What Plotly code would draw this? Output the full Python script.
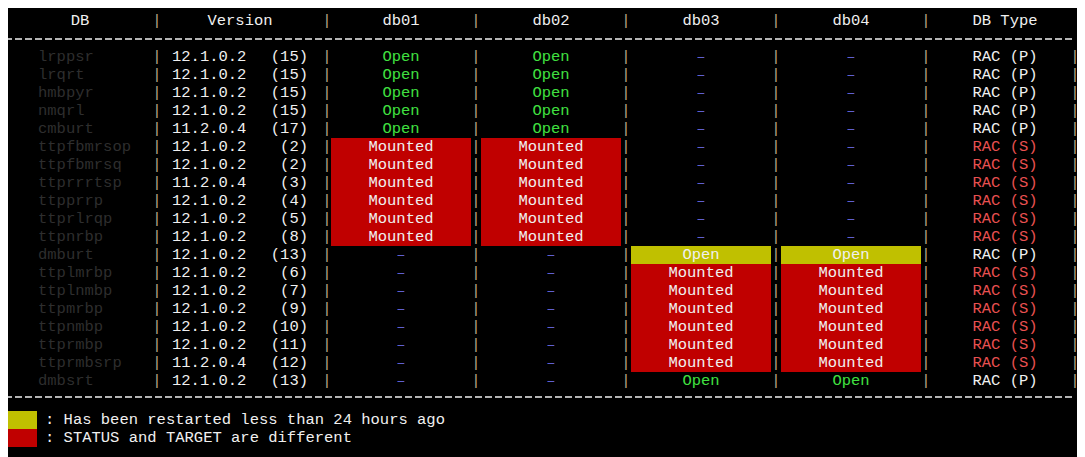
import plotly.graph_objects as go

headers = ["DB", "Version", "db01", "db02", "db03", "db04", "DB Type"]
db_names = ["lrppsr", "lrqrt", "hmbpyr", "nmqrl", "cmburt", "ttpfbmrsop", "ttpfbmrsq", "ttprrrtsp", "ttpprrp", "ttprlrqp",
            "ttpnrbp", "dmburt", "ttplmrbp", "ttplnmbp", "ttpmrbp", "ttpnmbp", "ttprmbp", "ttprmbsrp", "dmbsrt"]
versions = ["12.1.0.2"] * 4 + ["11.2.0.4", "12.1.0.2", "12.1.0.2", "11.2.0.4"] + ["12.1.0.2"] * 9 + ["11.2.0.4", "12.1.0.2"]
counts = [15, 15, 15, 15, 17, 2, 2, 3, 4, 5, 8, 13, 6, 7, 9, 10, 11, 12, 13]
db01 = ["Open"] * 5 + ["Mounted"] * 6 + ["–"] * 8
db02 = list(db01)
db03 = ["–"] * 11 + ["Open"] + ["Mounted"] * 6 + ["Open"]
db04 = list(db03)
flags12 = [""] * 5 + ["R"] * 6 + [""] * 8
flags34 = [""] * 11 + ["Y"] + ["R"] * 6 + [""]
db_types = ["RAC (P)"] * 5 + ["RAC (S)"] * 6 + ["RAC (P)"] + ["RAC (S)"] * 6 + ["RAC (P)"]
legend_labels = [": Has been restarted less than 24 hours ago", ": STATUS and TARGET are different"]

FONT = "Liberation Mono"
FS = 15.5
WHITE = "#f0f0f0"
GREEN = "#40e040"
BLUE = "#6060d0"
PIPE = "#b8a488"
REDTXT = "#e85050"
REDBOX = "#c00000"
YELBOX = "#c0c000"

col_centers = [80, 240, 401, 551, 701, 851, 1005]
pipes_x = [157, 327, 476, 626, 776, 926, 1075]
box_spans = [(331, 471), (481, 621), (631, 771), (781, 921)]
y_head = 21
y0 = 57
dy = 18
n = len(db_names)
ys = [y0 + i * dy for i in range(n)]

fig = go.Figure()
shapes = []

def txt(x, y, t, color, anchor="center"):
    fig.add_trace(go.Scatter(x=x, y=y, text=t, mode="text", textposition="middle " + anchor if anchor != "center" else "middle center",
                             textfont=dict(family=FONT, size=FS, color=color), hoverinfo="skip", showlegend=False))

txt(col_centers, [y_head] * 7, headers, WHITE)
txt(pipes_x[:-1], [y_head] * 6, ["|"] * 6, PIPE)
for yl in [39, 397]:
    shapes.append(dict(type="line", x0=5, x1=1075, y0=yl, y1=yl, line=dict(color=WHITE, width=1.5, dash="7px,3px")))

status_cols = [(db01, flags12), (db02, flags12), (db03, flags34), (db04, flags34)]
for ci, (vals, flags) in enumerate(status_cols):
    xa, xb = box_spans[ci]
    for i in range(n):
        if flags[i]:
            shapes.append(dict(type="rect", x0=xa, x1=xb, y0=ys[i] - dy / 2, y1=ys[i] + dy / 2,
                               fillcolor=REDBOX if flags[i] == "R" else YELBOX, line=dict(width=0), layer="below"))
    colors = []
    for i in range(n):
        if flags[i]:
            colors.append(WHITE)
        elif vals[i] == "Open":
            colors.append(GREEN)
        else:
            colors.append(BLUE)
    txt([col_centers[2 + ci]] * n, ys, vals, colors)

txt([38] * n, ys, db_names, "#2e2e2e", "right")
txt([172] * n, ys, versions, WHITE, "right")
txt([308] * n, ys, ["(%d)" % c for c in counts], WHITE, "left")
txt([col_centers[6]] * n, ys, db_types, [WHITE if t.endswith("(P)") else REDTXT for t in db_types])
for px in pipes_x:
    txt([px] * n, ys, ["|"] * n, PIPE)

leg_y = [420, 438]
for yv, c in zip(leg_y, [YELBOX, REDBOX]):
    shapes.append(dict(type="rect", x0=7, x1=37, y0=yv - 9, y1=yv + 9, fillcolor=c, line=dict(width=0)))
txt([45, 45], leg_y, legend_labels, WHITE, "right")

fig.update_layout(width=1085, height=457, margin=dict(l=0, r=0, t=0, b=0),
                  paper_bgcolor="black", plot_bgcolor="black", shapes=shapes,
                  xaxis=dict(range=[8, 1093], visible=False, fixedrange=True),
                  yaxis=dict(range=[465, 8], visible=False, fixedrange=True))
fig.write_html("out.html", config={"displayModeBar": False})
